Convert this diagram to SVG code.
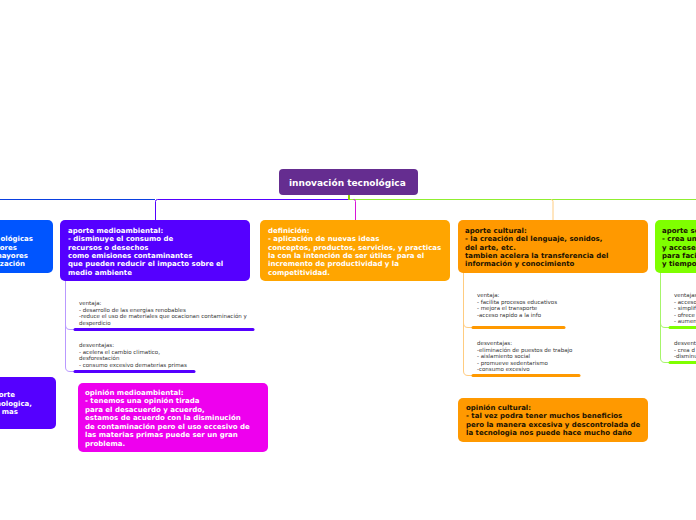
<svg xmlns="http://www.w3.org/2000/svg" width="696" height="520" viewBox="0 0 696 520">
<style>
text{font-family:"DejaVu Sans","Liberation Sans",sans-serif}
.b{font-size:7px;font-weight:700}
.w{fill:#fff}
.k{fill:#1a1200}
.s{font-size:5.5px;fill:#333}
.e{text-anchor:end}
.c{fill:none;stroke-width:1}
.u{fill:none;stroke-width:3;stroke-linecap:round}
</style>
<g id="connectors">
<path class="c" stroke="#0a3fe0" d="M0 199.500H155"/>
<path class="c" stroke="#5500ff" d="M155.500 220V201.500Q155.500 199.500 157.500 199.500H349"/>
<path class="c" stroke="#90ee30" d="M349 199.500H696"/>
<path fill="none" stroke="#8fd400" stroke-width="2" d="M349 195V200"/>
<path class="c" stroke="#d814d8" d="M355.500 220V201.500Q355.500 199.500 353.500 199.500"/>
<path class="c" stroke="#ffcc80" d="M553 220V201.500Q553 199.500 551 199.500"/>
<path class="c" stroke="#b999ff" d="M65.500 281V325Q65.500 329.500 70 329.500H75M65.500 325V367Q65.500 371.500 70 371.500H75"/>
<path class="c" stroke="#ffcc80" d="M463.500 273V323Q463.500 327.500 468 327.500H472M463.500 323V371Q463.500 375.500 468 375.500H472"/>
<path class="c" stroke="#a6f56a" d="M660.500 273V323Q660.500 327.500 665 327.500H670M660.500 323V358Q660.500 362.500 665 362.500H670"/>
<path class="u" stroke="#5500ff" d="M75 329.500H253"/>
<path class="u" stroke="#5500ff" d="M75 371.500H194"/>
<path class="u" stroke="#ff9900" d="M473 327.500H564"/>
<path class="u" stroke="#ff9900" d="M473 375.500H579"/>
<path class="u" stroke="#7fff00" d="M670 327.500H696"/>
<path class="u" stroke="#7fff00" d="M670 362.500H696"/>
</g>
<g id="root">
<rect x="279" y="169" width="139" height="26" rx="4" fill="#652d90"/>
<text x="289" y="186" font-size="9" font-weight="700" class="w">innovación tecnológica</text>
</g>
<g id="node-left-blue">
<rect x="-40" y="220" width="93" height="53" rx="5" fill="#0055ff"/>
<text class="b w e"><tspan x="33" y="241">ológicas</tspan><tspan x="17" y="249.500">ores</tspan><tspan x="28" y="258">mayores</tspan><tspan x="25" y="266">zación</tspan></text>
</g>
<g id="node-left-purple">
<rect x="-40" y="377" width="96" height="52" rx="5" fill="#5500ff"/>
<text class="b w e"><tspan x="15" y="397">orte</tspan><tspan x="32" y="406">nologica,</tspan><tspan x="18" y="414">mas</tspan></text>
</g>
<g id="node-medioambiental">
<rect x="60" y="220" width="190" height="61" rx="5" fill="#5500ff"/>
<text class="b w"><tspan x="68" y="232.500">aporte medioambiental:</tspan><tspan x="68" y="241">- disminuye el consumo de</tspan><tspan x="68" y="249.500">recursos o desechos</tspan><tspan x="68" y="258">como emisiones contaminantes</tspan><tspan x="68" y="266">que pueden reducir el impacto sobre el</tspan><tspan x="68" y="275">medio ambiente</tspan></text>
</g>
<g id="node-definicion">
<rect x="260" y="220" width="190" height="61" rx="5" fill="#ffa500"/>
<text class="b w"><tspan x="268" y="232.500">definición:</tspan><tspan x="268" y="241">- aplicación de nuevas ideas</tspan><tspan x="268" y="249.500">conceptos, productos, servicios, y practicas</tspan><tspan x="268" y="258" xml:space="preserve">la con la intención de ser útiles  para el</tspan><tspan x="268" y="266">incremento de productividad y la</tspan><tspan x="268" y="275">competitividad.</tspan></text>
</g>
<g id="node-cultural">
<rect x="458" y="220" width="190" height="53" rx="5" fill="#ff9900"/>
<text class="b k"><tspan x="465" y="232.500">aporte cultural:</tspan><tspan x="465" y="241">- la creación del lenguaje, sonidos,</tspan><tspan x="465" y="249.500">del arte, etc.</tspan><tspan x="465" y="258">tambien acelera la transferencia del</tspan><tspan x="465" y="266">información y conocimiento</tspan></text>
</g>
<g id="node-social">
<rect x="655" y="220" width="80" height="53" rx="5" fill="#7fff00"/>
<text class="b k"><tspan x="662" y="232.500">aporte so</tspan><tspan x="662" y="241">- crea un</tspan><tspan x="662" y="249.500">y accese</tspan><tspan x="662" y="258">para faci</tspan><tspan x="662" y="266">y tiempo</tspan></text>
</g>
<g id="node-ventaja-medio">
<text class="s"><tspan x="79" y="305">ventaja:</tspan><tspan x="79" y="311.500">- desarrollo de las energias renobables</tspan><tspan x="79" y="318">-reduce el uso de materiales que ocacionan contaminación y</tspan><tspan x="79" y="325">desperdicio</tspan></text>
</g>
<g id="node-desventaja-medio">
<text class="s"><tspan x="79" y="347">desventajas:</tspan><tspan x="79" y="353.500">- acelera el cambio climatico,</tspan><tspan x="79" y="360">desforestación</tspan><tspan x="79" y="366.500">- consumo excesivo dematerias primas</tspan></text>
</g>
<g id="node-ventaja-cultural">
<text class="s"><tspan x="477" y="297">ventaja:</tspan><tspan x="477" y="303.500">- facilita procesos educativos</tspan><tspan x="477" y="310">- mejora el transporte</tspan><tspan x="477" y="316.500">-acceso rapido a la info</tspan></text>
</g>
<g id="node-desventaja-cultural">
<text class="s"><tspan x="477" y="345">desventajas:</tspan><tspan x="477" y="351.500">-eliminación de puestos de trabajo</tspan><tspan x="477" y="358">- aislamiento social</tspan><tspan x="477" y="364.500">- promueve sedentarismo</tspan><tspan x="477" y="371">-consumo excesivo</tspan></text>
</g>
<g id="node-ventaja-social">
<text class="s"><tspan x="674" y="297">ventajas</tspan><tspan x="674" y="303.500">- acceso</tspan><tspan x="674" y="310">- simplif</tspan><tspan x="674" y="316.500">- ofrece</tspan><tspan x="674" y="323">- aumen</tspan></text>
</g>
<g id="node-desventaja-social">
<text class="s"><tspan x="674" y="345">desvent</tspan><tspan x="674" y="351.500">- crea d</tspan><tspan x="674" y="358">-disminu</tspan></text>
</g>
<g id="node-opinion-medio">
<rect x="78" y="383" width="190" height="69" rx="5" fill="#ee00ee"/>
<text class="b w"><tspan x="85" y="395">opinión medioambiental:</tspan><tspan x="85" y="403">- tenemos una opinión tirada</tspan><tspan x="85" y="412">para el desacuerdo y acuerdo,</tspan><tspan x="85" y="420">estamos de acuerdo con la disminución</tspan><tspan x="85" y="429">de contaminación pero el uso eccesivo de</tspan><tspan x="85" y="437">las materias primas puede ser un gran</tspan><tspan x="85" y="446">problema.</tspan></text>
</g>
<g id="node-opinion-cultural">
<rect x="458" y="398" width="190" height="44" rx="5" fill="#ff9900"/>
<text class="b k"><tspan x="466" y="410">opinión cultural:</tspan><tspan x="466" y="418">- tal vez podra tener muchos beneficios</tspan><tspan x="466" y="427">pero la manera excesiva y descontrolada de</tspan><tspan x="466" y="435">la tecnologia nos puede hace mucho daño</tspan></text>
</g>
</svg>
